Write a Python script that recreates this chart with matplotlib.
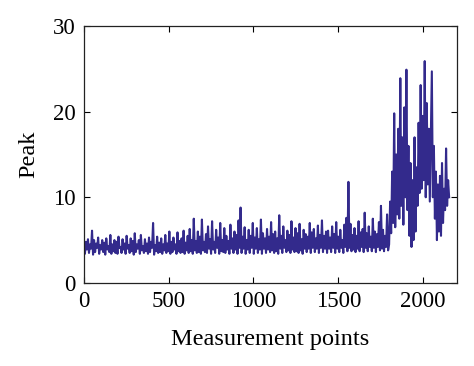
import matplotlib
matplotlib.use("Agg")
import matplotlib.pyplot as plt
import numpy as np

step = 6
peak = [
    4.2, 3.4, 4.8, 3.9, 5.1, 3.5, 4.5, 4.0, 6.1, 3.3, 5.0, 3.6, 4.6, 4.1, 5.3, 3.4, 4.4, 3.9, 5.0, 3.6,
    4.7, 3.3, 5.2, 3.9, 4.3, 3.6, 5.6, 3.4, 4.5, 3.7, 5.0, 3.5, 4.8, 3.4, 5.4, 4.1, 4.2, 3.5, 5.1, 3.9,
    4.6, 3.4, 5.5, 4.0, 4.4, 3.5, 5.2, 3.7, 4.9, 3.3, 5.8, 3.6, 4.5, 4.0, 5.0, 3.4, 5.6, 3.8, 4.3, 3.5,
    5.1, 3.7, 4.6, 3.4, 5.3, 3.6, 4.8, 4.1, 7.0, 3.3, 4.4, 3.7, 5.4, 3.5, 4.7, 3.6, 5.2, 3.4, 4.5, 3.8,
    5.6, 3.5, 4.6, 3.7, 6.0, 3.4, 4.8, 3.6, 5.3, 3.9, 4.5, 3.4, 5.9, 3.7, 4.9, 3.5, 5.2, 3.6, 6.1, 3.4,
    4.7, 3.8, 5.5, 3.5, 6.3, 3.7, 5.0, 3.4, 7.5, 3.8, 4.9, 3.5, 6.0, 3.6, 5.4, 3.4, 7.4, 3.8, 4.8, 3.6,
    5.7, 3.5, 6.6, 4.0, 5.1, 3.4, 7.2, 3.9, 4.8, 3.5, 6.2, 4.1, 5.3, 3.4, 7.0, 3.7, 5.0, 3.6, 6.4, 3.5,
    5.5, 3.9, 4.9, 3.4, 6.8, 4.0, 5.2, 3.5, 6.0, 3.9, 5.6, 3.4, 7.3, 4.1, 8.8, 3.5, 5.4, 4.0, 6.5, 3.4,
    5.0, 3.9, 6.2, 3.5, 5.5, 4.1, 7.0, 3.4, 5.3, 4.0, 6.4, 3.5, 5.1, 3.9, 7.4, 3.4, 5.8, 4.0, 5.2, 3.5,
    6.3, 3.9, 5.4, 3.6, 7.1, 3.8, 5.7, 3.5, 6.0, 3.7, 5.2, 3.4, 7.9, 4.0, 5.5, 3.5, 6.6, 4.1, 5.0, 3.6,
    6.1, 3.8, 5.6, 3.5, 7.2, 3.9, 5.3, 3.6, 6.4, 3.7, 5.8, 3.5, 6.9, 3.8, 5.1, 3.4, 6.2, 4.0, 5.7, 3.6,
    5.4, 4.0, 7.0, 3.5, 5.9, 4.1, 6.3, 3.6, 5.2, 4.0, 6.7, 3.5, 5.6, 4.1, 7.3, 3.6, 5.5, 4.0, 6.0, 3.5,
    6.1, 4.0, 5.3, 3.6, 6.6, 4.1, 5.7, 3.5, 7.1, 4.0, 5.4, 3.6, 6.2, 4.1, 5.0, 3.5, 6.8, 4.2, 7.6, 3.7,
    11.8, 4.1, 6.9, 3.7, 5.6, 3.9, 6.4, 3.6, 5.5, 4.0, 7.2, 3.7, 5.9, 4.2, 6.3, 3.6, 8.2, 4.1, 5.8, 3.7,
    6.6, 4.2, 5.4, 3.7, 7.5, 4.1, 6.0, 3.6, 5.7, 4.2, 7.1, 3.8, 9.0, 4.0, 6.2, 3.7, 5.5, 4.2, 8.0, 3.8,
    4.5, 9.5, 5.8, 13.0, 7.0, 19.8, 6.5, 15.0, 8.0, 18.0, 7.5, 23.9, 9.0, 17.0, 6.8, 20.5, 10.0, 24.9, 8.5, 16.0,
    5.5, 14.0, 4.2, 12.0, 5.0, 17.0, 6.0, 13.5, 9.0, 18.7, 10.5, 23.1, 11.0, 19.5, 12.0, 25.9, 10.0, 21.0, 11.5, 18.0,
    9.5, 17.5, 24.7, 10.0, 16.0, 7.5, 13.0, 5.0, 11.5, 6.0, 12.5, 5.5, 14.0, 7.0, 11.0, 8.5, 15.7, 9.0, 12.0, 10.0,
]
points = np.arange(len(peak)) * step

plt.rcParams["font.family"] = ["Liberation Serif", "DejaVu Serif"]

fig = plt.figure(figsize=(4.74, 3.66), dpi=100)
ax = fig.add_axes([0.177, 0.227, 0.787, 0.702])
ax.plot(points, peak, color="#332a8c", linewidth=1.5)

ax.set_xlim(0, 2200)
ax.set_ylim(0, 30)
ax.set_xticks([0, 500, 1000, 1500, 2000])
ax.set_yticks([0, 10, 20, 30])
ax.tick_params(direction="in", top=True, right=True, labelsize=16.5, length=4, pad=6)
ax.set_xlabel("Measurement points", fontsize=17.5, labelpad=12)
ax.set_ylabel("Peak", fontsize=17.5, labelpad=10)
for s in ax.spines.values():
    s.set_linewidth(0.9)
    s.set_color("#222222")

fig.savefig("out.png", dpi=100)
